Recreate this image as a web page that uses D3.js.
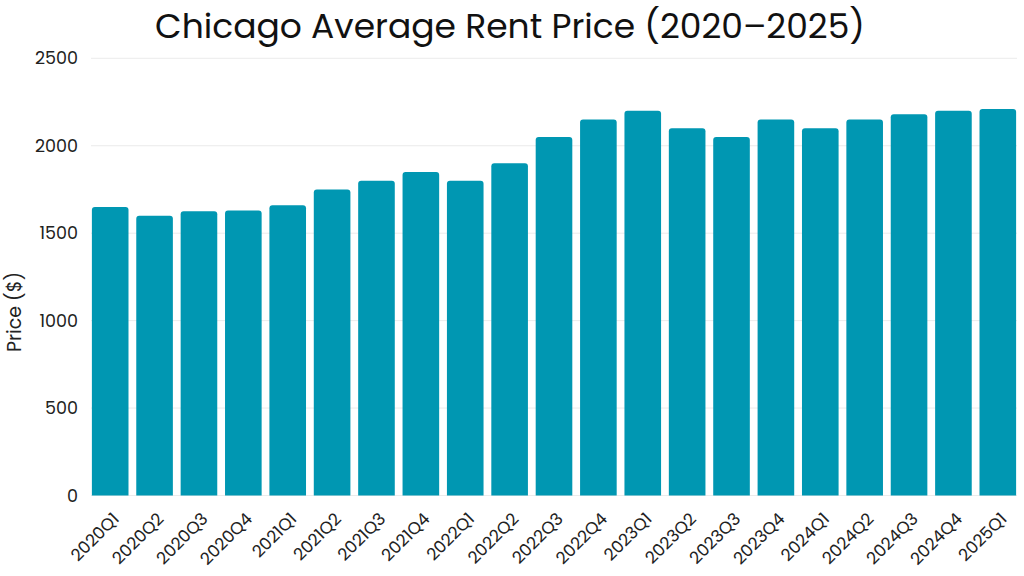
<!DOCTYPE html>
<html>
<head>
<meta charset="utf-8">
<script src="https://cdn.jsdelivr.net/npm/d3@7"></script>
<style>
  html, body { margin: 0; padding: 0; background: #fff; }
  svg { display: block; font-family: "Poppins", "Open Sans", sans-serif; }
</style>
</head>
<body>
<svg id="chart" width="1024" height="576"></svg>
<script>
const categories = ["2020Q1","2020Q2","2020Q3","2020Q4","2021Q1","2021Q2","2021Q3","2021Q4",
  "2022Q1","2022Q2","2022Q3","2022Q4","2023Q1","2023Q2","2023Q3","2023Q4",
  "2024Q1","2024Q2","2024Q3","2024Q4","2025Q1"];
const prices = [1650,1600,1625,1630,1660,1750,1800,1850,1800,1900,2050,2150,2200,2100,2050,2150,2100,2150,2180,2200,2210];
const yTicks = [0,500,1000,1500,2000,2500];
const titleText = "Chicago Average Rent Price (2020\u20132025)";
const yLabelText = "Price ($)";

const svg = d3.select("#chart");
const x = d3.scaleBand().domain(categories).range([88, 1020]).paddingInner(0.175).paddingOuter(0.0875);
const y = d3.scaleLinear().domain([0, 2500]).range([495.5, 58.3]);

const gridX0 = 91, gridX1 = 1017;

// gridlines
svg.append("g").selectAll("line").data(yTicks).join("line")
  .attr("x1", gridX0).attr("x2", gridX1)
  .attr("y1", d => y(d)).attr("y2", d => y(d))
  .attr("stroke", "#ebebeb").attr("stroke-width", 1);

// y tick labels
svg.append("g").selectAll("text").data(yTicks).join("text")
  .attr("x", 78).attr("y", d => y(d)).attr("dy", "0.35em")
  .attr("text-anchor", "end").attr("font-size", 17.5).attr("fill", "#222")
  .text(d => d);

// bars with rounded top corners
const r = 3;
function barPath(d, i) {
  const x0 = x(categories[i]), w = x.bandwidth();
  const yt = y(d), yb = y(0);
  return `M${x0},${yb}V${yt + r}Q${x0},${yt} ${x0 + r},${yt}H${x0 + w - r}Q${x0 + w},${yt} ${x0 + w},${yt + r}V${yb}Z`;
}
svg.append("g").selectAll("path").data(prices).join("path")
  .attr("d", (d, i) => barPath(d, i))
  .attr("fill", "#0097b2");

// x tick labels
svg.append("g").selectAll("text").data(categories).join("text")
  .attr("transform", d => `translate(${x(d) + x.bandwidth() / 2 + 10},520) rotate(-45)`)
  .attr("text-anchor", "end").attr("font-size", 17).attr("fill", "#222")
  .text(d => d);

// y axis label
svg.append("text")
  .attr("transform", "translate(21,312) rotate(-90)")
  .attr("text-anchor", "middle").attr("font-size", 19).attr("fill", "#222")
  .text(yLabelText);

// title
svg.append("text")
  .attr("x", 510).attr("y", 37.5)
  .attr("text-anchor", "middle").attr("font-size", 34.5).attr("fill", "#111")
  .text(titleText);
</script>
</body>
</html>
